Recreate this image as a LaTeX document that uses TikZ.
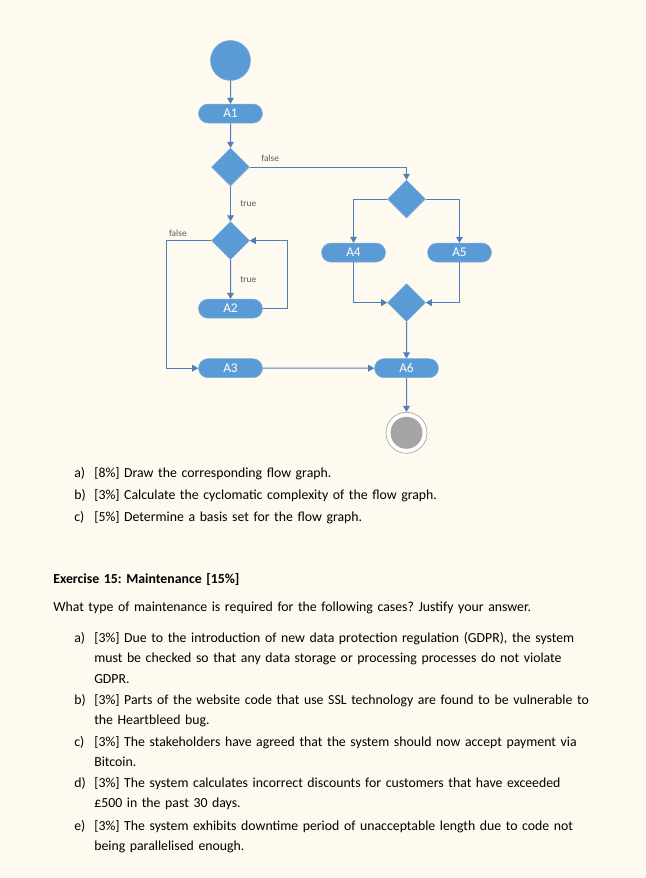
\documentclass[tikz,border=0pt]{standalone}
\usepackage{fontspec}
\setmainfont{Carlito}
\frenchspacing
\usepackage{tikz}
\usetikzlibrary{
  shapes.geometric,
  shapes.misc,
  arrows.meta,
  positioning,
  calc
}
\definecolor{pagecream}{RGB}{255, 250, 240}
\definecolor{actblue}  {RGB}{ 91, 155, 213}
\definecolor{linkblue} {RGB}{ 80, 126, 186}
\definecolor{guardgrey}{RGB}{ 89,  89,  89}
\definecolor{endgrey}  {RGB}{165, 165, 165}
\tikzset{
  activity/.style={
    rounded rectangle, fill=actblue, draw=actblue!80!white,
    minimum width=48pt, minimum height=14.25pt, inner sep=0pt,
    text=white, font=\fontsize{10}{11}\selectfont
  },
  decision/.style={
    diamond, aspect=1, fill=actblue, draw=actblue!80!white,
    minimum width=28.5pt, minimum height=28.5pt, inner sep=0pt
  },
  startnode/.style={
    circle, fill=actblue, draw=actblue!80!white,
    minimum size=30pt, inner sep=0pt
  },
  endnode/.style={
    circle, draw=endgrey, fill=white, line width=0.5pt,
    minimum size=30.75pt, inner sep=0pt,
    path picture={\fill[endgrey] (path picture bounding box.center) circle (12pt);}
  },
  flow/.style={
    draw=linkblue, line width=0.75pt,
    -{Triangle[length=4.5pt,width=5pt]}
  },
  guard/.style={
    font=\fontsize{7}{8}\selectfont, text=guardgrey, inner sep=1pt
  },
  qlabel/.style={
    anchor=base west, inner sep=0pt, font=\fontsize{10.35}{15.4}\selectfont
  },
  qtext/.style={
    anchor=base west, inner sep=0pt, align=left, text width=520pt,
    font=\fontsize{10.35}{15.4}\selectfont
  },
}

\begin{document}
\begin{tikzpicture}[x=0.75pt, y=-0.75pt]

% ── Page ──────────────────────────────────────────────────────────────────────
\useasboundingbox (0,0) rectangle (646,878);
\fill[pagecream] (0,0) rectangle (646,878);

% ── Left column ───────────────────────────────────────────────────────────────
\node[startnode] (start) at (230.5,60.5) {};
\node[activity, below=17.25pt of start] (a1) {A1};
\node[decision, below=18.4pt of a1] (d1) {};
\node[decision, below=26.25pt of d1] (d2) {};
\node[activity, below=29.25pt of d2] (a2) {A2};
\node[activity, below=30pt of a2] (a3) {A3};

% ── Right column ──────────────────────────────────────────────────────────────
\node[activity, right=83.6pt of a3] (a6) {A6};
\node[decision, above=27.4pt of a6] (d4) {};
\node[decision, above=48.75pt of d4] (d3) {};
\node[activity] (a4) at ($(d3)+(-53,53.5)$) {A4};
\node[activity] (a5) at ($(d3)+(53,53.5)$) {A5};
\node[endnode, below=25.5pt of a6] (stop) {};

% ── Arrows ────────────────────────────────────────────────────────────────────
\draw[flow] (start) -- (a1);
\draw[flow] (a1) -- (d1);
\draw[flow] (d1) -- node[guard, right=6pt]{true} (d2);
\draw[flow]
  (d1.east) -- node[guard, above=3pt, pos=0.13]{false}
  (d1.east -| d3) -- (d3.north);

\draw[flow] (d2) -- node[guard, right=6pt]{true} (a2);
\draw[flow] (a2.east) -- ++(25,0) |- (d2.east);
\draw[flow]
  (d2.west) -- node[guard, above=2pt, pos=0.75]{false}
  ++(-44.5,0) |- (a3.west);

\draw[flow] (d3.west) -| (a4.north);
\draw[flow] (d3.east) -| (a5.north);
\draw[flow] (a4.south) |- (d4.west);
\draw[flow] (a5.south) |- (d4.east);
\draw[flow] (d4) -- (a6);
\draw[flow] (a3) -- (a6);
\draw[flow] (a6) -- (stop);

% ── Questions on the flow graph ───────────────────────────────────────────────
\node[qlabel] (qa) at (74,477) {a)};
\node[qtext]  (qat) at (94,477) {[8\%] Draw the corresponding flow graph.};
\node[qlabel] (qb) at (74,499) {b)};
\node[qtext]  (qbt) at (94,499) {[3\%] Calculate the cyclomatic complexity of the flow graph.};
\node[qlabel] (qc) at (74,521) {c)};
\node[qtext]  (qct) at (94,521) {[5\%] Determine a basis set for the flow graph.};

% ── Exercise 15 ───────────────────────────────────────────────────────────────
\node[qtext] (ex) at (53,583) {\textbf{Exercise 15: Maintenance [15\%]}};
\node[qtext] (ask) at (53,611)
  {What type of maintenance is required for the following cases? Justify your answer.};

\node[qlabel] (ma) at (74,642) {a)};
\node[qtext]  (mat) at (94,642) {
  [3\%] Due to the introduction of new data protection regulation (GDPR), the system\\
  must be checked so that any data storage or processing processes do not violate\\
  GDPR.};
\node[qlabel] (mb) at (74,704) {b)};
\node[qtext]  (mbt) at (94,704) {
  [3\%] Parts of the website code that use SSL technology are found to be vulnerable to\\
  the Heartbleed bug.};
\node[qlabel] (mc) at (74,746) {c)};
\node[qtext]  (mct) at (94,746) {
  [3\%] The stakeholders have agreed that the system should now accept payment via\\
  Bitcoin.};
\node[qlabel] (md) at (74,787) {d)};
\node[qtext]  (mdt) at (94,787) {
  [3\%] The system calculates incorrect discounts for customers that have exceeded\\
  £500 in the past 30 days.};
\node[qlabel] (me) at (74,830) {e)};
\node[qtext]  (met) at (94,830) {
  [3\%] The system exhibits downtime period of unacceptable length due to code not\\
  being parallelised enough.};

\end{tikzpicture}
\end{document}
